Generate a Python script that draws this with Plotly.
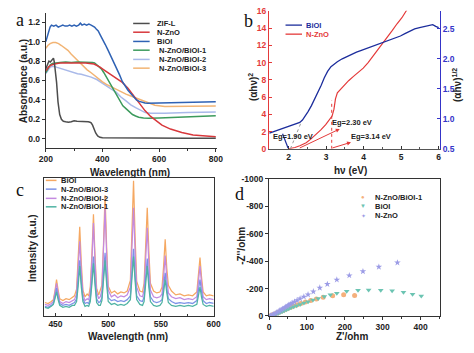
import plotly.graph_objects as go

W, H = 474, 353
def px(x): return x / W
def py(y): return 1 - y / H

# ---------------- Panel a: UV-vis absorbance ----------------
zif_wl = [200, 205, 211, 216, 220, 224, 227, 230, 234, 238, 243, 249, 255, 262, 270, 280, 290, 300, 310, 320, 330, 340, 350, 356, 360, 365, 370, 376, 383, 391, 400, 450, 500, 600, 700, 800]
zif_a = [0.72, 0.76, 0.80, 0.79, 0.81, 0.82, 0.83, 0.79, 0.70, 0.58, 0.38, 0.25, 0.20, 0.18, 0.175, 0.17, 0.175, 0.185, 0.18, 0.18, 0.175, 0.175, 0.175, 0.17, 0.165, 0.14, 0.10, 0.06, 0.03, 0.015, 0.01, 0.008, 0.007, 0.006, 0.005, 0.005]

nzno_wl = [200, 210, 220, 230, 250, 280, 310, 340, 370, 390, 410, 430, 450, 470, 490, 510, 530, 550, 570, 590, 610, 640, 680, 720, 760, 800]
nzno_a = [0.70, 0.74, 0.76, 0.77, 0.78, 0.78, 0.78, 0.78, 0.77, 0.74, 0.70, 0.66, 0.62, 0.58, 0.52, 0.44, 0.36, 0.29, 0.23, 0.18, 0.14, 0.10, 0.065, 0.04, 0.028, 0.02]

bioi_wl = [200, 205, 210, 215, 220, 228, 236, 244, 252, 260, 268, 276, 284, 292, 300, 308, 316, 322, 328, 336, 344, 352, 360, 366, 372, 378, 385, 392, 400, 410, 420, 430, 440, 450, 460, 470, 480, 490, 500, 510, 520, 530, 540, 550, 560, 580, 620, 680, 740, 800]
bioi_a = [1.00, 1.06, 1.12, 1.15, 1.17, 1.16, 1.17, 1.15, 1.16, 1.17, 1.16, 1.16, 1.17, 1.16, 1.17, 1.16, 1.17, 1.19, 1.17, 1.18, 1.17, 1.18, 1.17, 1.16, 1.15, 1.13, 1.11, 1.07, 1.03, 0.97, 0.91, 0.85, 0.79, 0.73, 0.66, 0.59, 0.54, 0.50, 0.465, 0.43, 0.40, 0.385, 0.375, 0.368, 0.365, 0.366, 0.370, 0.374, 0.378, 0.38]

c1_wl = [200, 207, 215, 223, 232, 250, 270, 290, 310, 330, 350, 365, 372, 380, 388, 396, 405, 415, 425, 437, 448, 460, 472, 483, 495, 506, 517, 528, 545, 563, 600, 650, 700, 750, 800]
c1_a = [0.68, 0.72, 0.76, 0.775, 0.78, 0.785, 0.79, 0.785, 0.79, 0.79, 0.785, 0.785, 0.78, 0.76, 0.74, 0.72, 0.68, 0.63, 0.58, 0.51, 0.45, 0.39, 0.34, 0.31, 0.275, 0.25, 0.235, 0.222, 0.215, 0.212, 0.215, 0.222, 0.228, 0.233, 0.237]

c2_wl = [200, 208, 215, 222, 230, 240, 255, 270, 289, 300, 312, 325, 346, 360, 380, 400, 414, 430, 448, 465, 483, 500, 517, 535, 551, 570, 585, 620, 700, 800]
c2_a = [0.67, 0.71, 0.735, 0.745, 0.745, 0.735, 0.72, 0.705, 0.69, 0.675, 0.67, 0.665, 0.65, 0.635, 0.61, 0.575, 0.55, 0.515, 0.48, 0.43, 0.39, 0.35, 0.32, 0.29, 0.27, 0.262, 0.26, 0.262, 0.27, 0.277]

c3_wl = [200, 207, 215, 225, 235, 245, 255, 265, 278, 290, 300, 312, 325, 346, 360, 380, 400, 414, 430, 448, 465, 483, 500, 517, 535, 551, 570, 585, 620, 700, 800]
c3_a = [0.93, 0.96, 0.98, 0.99, 0.99, 0.98, 0.96, 0.94, 0.91, 0.87, 0.84, 0.81, 0.77, 0.71, 0.68, 0.63, 0.585, 0.56, 0.535, 0.51, 0.485, 0.46, 0.44, 0.42, 0.40, 0.38, 0.36, 0.345, 0.333, 0.333, 0.337]

a_names = ["ZIF-L", "N-ZnO", "BiOI", "N-ZnO/BiOI-1", "N-ZnO/BiOI-2", "N-ZnO/BiOI-3"]
a_colors = ["#4d4d4d", "#d8383c", "#2f62b4", "#3c9a5c", "#a9b9e9", "#f2b474"]

# ---------------- Panel b: Tauc plots ----------------
b_bioi_ev = [1.49, 1.62, 1.75, 1.88, 2.0, 2.15, 2.30, 2.37, 2.43, 2.52, 2.61, 2.70, 2.78, 2.87, 2.95, 3.04, 3.13, 3.22, 3.30, 3.43, 3.56, 3.68, 3.81, 3.94, 4.07, 4.20, 4.33, 4.46, 4.59, 4.72, 4.85, 4.98, 5.10, 5.23, 5.36, 5.49, 5.62, 5.73, 5.84, 5.92, 6.0]
b_bioi_v = [0.76, 0.79, 0.82, 0.845, 0.87, 0.90, 0.94, 0.98, 1.03, 1.12, 1.22, 1.33, 1.44, 1.56, 1.68, 1.79, 1.87, 1.92, 1.95, 2.00, 2.04, 2.08, 2.11, 2.14, 2.17, 2.19, 2.22, 2.25, 2.29, 2.32, 2.35, 2.38, 2.42, 2.46, 2.50, 2.52, 2.54, 2.55, 2.57, 2.54, 2.52]
b_nzno_ev = [2.0, 2.1, 2.17, 2.3, 2.47, 2.6, 2.73, 2.86, 2.99, 3.08, 3.16, 3.21, 3.25, 3.30, 3.38, 3.47, 3.60, 3.73, 3.86, 3.99, 4.12, 4.25, 4.38, 4.50, 4.63, 4.76, 4.89, 5.02, 5.15]
b_nzno_v = [0.0, 0.05, 0.15, 0.35, 0.7, 1.15, 1.65, 2.2, 2.8, 3.3, 3.8, 4.6, 5.8, 6.5, 6.9, 7.3, 7.9, 8.4, 8.9, 9.35, 10.0, 10.7, 11.5, 12.2, 12.9, 13.7, 14.5, 15.2, 16.1]
b_gaps = ["Eg=1.90 eV", "Eg=2.30 eV", "Eg=3.14 eV"]
b_blue = "#1c2d9c"
b_red = "#e43a3a"

# ---------------- Panel c: PL spectra ----------------
pl_wl = [440, 443, 446, 448, 449.5, 451, 452.5, 454, 457, 460, 463, 466, 468, 470, 471.5, 473, 474.5, 476,
         478, 480, 481.5, 483, 484.5, 486, 487.5, 489, 491, 492.5, 494, 495.5, 497, 498.5, 500,
         503, 506, 509, 512, 515, 518, 521, 522.5, 524, 525.5, 527, 530, 532.5, 534, 535.5, 537, 538.5, 540,
         543, 546, 549, 551, 552.5, 554, 555.5, 557, 560, 564, 568, 572, 576, 580, 584, 585.5, 587, 588.5, 590,
         593, 596, 600]
pl_bioi = [14, 13, 15, 17, 26, 38, 27, 18, 16, 18, 17, 19, 21, 28, 57, 93, 55, 27,
           20, 23, 21, 30, 63, 106, 62, 29, 22, 26, 32, 74, 126, 72, 31,
           24, 26, 23, 25, 24, 26, 37, 83, 141, 82, 36, 26, 25, 34, 69, 113, 68, 34,
           26, 24, 25, 30, 52, 80, 50, 32, 26, 22, 23, 21, 22, 21, 25, 41, 61, 40, 25,
           21, 22, 21]
pl_b3 = [10, 9, 11, 13, 20, 29, 20, 13, 11, 12, 11, 13, 14, 18, 36, 58, 35, 18,
         13, 14, 13, 18, 38, 62, 37, 18, 14, 15, 19, 40, 66, 39, 19,
         16, 17, 15, 16, 15, 17, 21, 43, 70, 42, 21, 16, 15, 20, 37, 60, 36, 20,
         15, 14, 15, 17, 30, 45, 29, 18, 15, 13, 14, 13, 14, 13, 16, 26, 38, 25, 16,
         13, 14, 13]
pl_b2 = [12, 11, 13, 15, 24, 34, 24, 15, 13, 15, 14, 16, 17, 23, 47, 78, 46, 23,
         16, 18, 17, 25, 57, 97, 56, 25, 18, 20, 27, 65, 112, 64, 27,
         20, 22, 19, 21, 20, 22, 30, 67, 113, 66, 30, 21, 20, 27, 56, 92, 55, 27,
         20, 19, 20, 23, 41, 63, 40, 24, 20, 18, 19, 17, 18, 17, 20, 35, 52, 34, 20,
         17, 18, 17]
pl_b1 = [9, 8, 10, 12, 18, 25, 17, 11, 9, 10, 9, 11, 11, 15, 31, 52, 30, 15,
         10, 11, 10, 15, 33, 55, 32, 14, 11, 11, 16, 34, 58, 33, 15,
         12, 13, 11, 12, 11, 13, 17, 37, 62, 36, 17, 12, 11, 15, 31, 52, 30, 15,
         11, 10, 11, 14, 25, 38, 24, 14, 11, 10, 11, 10, 11, 10, 12, 20, 30, 19, 12,
         10, 11, 10]
c_names = ["BiOI", "N-ZnO/BiOI-3", "N-ZnO/BiOI-2", "N-ZnO/BiOI-1"]
c_colors = ["#f5a862", "#7d92e6", "#c48ae0", "#4fb3a3"]

# ---------------- Panel d: Nyquist ----------------
d_c1_re = [4, 8, 12, 16, 20, 24, 28, 33, 38, 44, 50, 57, 65, 74, 84, 96, 110, 125, 143, 168, 197, 226]
d_c1_im = [2, 6, 10, 15, 20, 25, 30, 36, 42, 49, 56, 64, 72, 81, 91, 102, 113, 124, 137, 148, 155, 150]
d_bioi_re = [5, 10, 15, 20, 25, 30, 35, 40, 46, 52, 58, 65, 73, 82, 92, 103, 116, 130, 146, 162, 179, 205, 235, 263, 295, 325, 355, 379, 402]
d_bioi_im = [2, 5, 10, 15, 20, 26, 32, 38, 45, 52, 59, 67, 75, 84, 94, 104, 116, 128, 141, 155, 166, 180, 188, 189, 188, 183, 172, 158, 146]
d_nzno_re = [4, 8, 12, 16, 20, 24, 28, 32, 36, 40, 44, 48, 52, 56, 61, 67, 74, 82, 92, 103, 117, 134, 154, 179, 212, 248, 290, 339]
d_nzno_im = [2, 6, 11, 17, 23, 30, 37, 44, 51, 58, 65, 72, 79, 86, 94, 103, 114, 126, 140, 156, 178, 205, 232, 264, 295, 325, 358, 389]
d_names = ["N-ZnO/BiOI-1", "BiOI", "N-ZnO"]
d_colors = ["#f5b07c", "#6cc4b2", "#9c9ce6"]
d_symbols = ["circle", "triangle-down", "star"]
d_yticks = [0, 200, 400, 600, 800, 1000]

fig = go.Figure()

a_data = [(zif_wl, zif_a), (nzno_wl, nzno_a), (bioi_wl, bioi_a), (c1_wl, c1_a), (c2_wl, c2_a), (c3_wl, c3_a)]
order = [4, 5, 3, 1, 2, 0]
for i in order:
    xs, ys = a_data[i]
    fig.add_trace(go.Scatter(x=xs, y=ys, mode="lines", name=a_names[i],
                             line=dict(color=a_colors[i], width=1.5), xaxis="x", yaxis="y"))

fig.add_trace(go.Scatter(x=b_nzno_ev, y=b_nzno_v, mode="lines", name="N-ZnO",
                         line=dict(color=b_red, width=1.2), xaxis="x2", yaxis="y2"))
fig.add_trace(go.Scatter(x=b_bioi_ev, y=b_bioi_v, mode="lines", name="BiOI",
                         line=dict(color=b_blue, width=1.3), xaxis="x2", yaxis="y3"))

c_data = [pl_bioi, pl_b3, pl_b2, pl_b1]
for i in [0, 2, 1, 3]:
    fig.add_trace(go.Scatter(x=pl_wl, y=c_data[i], mode="lines", name=c_names[i],
                             line=dict(color=c_colors[i], width=1.25), xaxis="x3", yaxis="y4"))

d_data = [(d_c1_re, d_c1_im), (d_bioi_re, d_bioi_im), (d_nzno_re, d_nzno_im)]
for i in [0, 1, 2]:
    xs, ys = d_data[i]
    fig.add_trace(go.Scatter(x=xs, y=ys, mode="markers", name=d_names[i],
                             marker=dict(color=d_colors[i], size=5, symbol=d_symbols[i]),
                             xaxis="x4", yaxis="y5"))

TF = dict(family="Liberation Sans", size=8.5, color="#222", weight="bold")
base = dict(showgrid=False, zeroline=False, showline=True, linecolor="#333", linewidth=1.2,
            tickfont=TF, tickcolor="#333", ticklen=3, tickwidth=1)

fig.update_layout(
    width=W, height=H, margin=dict(l=0, r=0, t=0, b=0),
    paper_bgcolor="white", plot_bgcolor="white", showlegend=False,
    xaxis=dict(base, domain=[px(40), px(216)], range=[200, 803], anchor="y",
               tickvals=[200, 400, 600, 800], ticks="outside",
               minor=dict(ticks="outside", dtick=100, ticklen=2, tickcolor="#333")),
    yaxis=dict(base, domain=[py(147), py(8)], range=[-0.093, 1.297], anchor="x",
               tickvals=[0, 0.2, 0.4, 0.6, 0.8, 1.0, 1.2], tickformat=".1f", ticks="outside"),
    xaxis2=dict(base, domain=[px(270), px(446)], range=[1.48, 6.03], anchor="y2",
                tickvals=[2, 3, 4, 5, 6], ticks="inside", linecolor="#555",
                minor=dict(ticks="inside", dtick=0.5, ticklen=2, tickcolor="#555")),
    yaxis2=dict(base, domain=[py(148), py(6)], range=[0, 16], anchor="x2",
                tickvals=[0, 2, 4, 6, 8, 10, 12, 14, 16], ticks="inside",
                linecolor=b_red, tickcolor=b_red,
                tickfont=dict(TF, color=b_red)),
    yaxis3=dict(base, overlaying="y2", side="right", range=[0.5, 2.8], anchor="x2",
                tickvals=[0.5, 1.0, 1.5, 2.0, 2.5], tickformat=".1f", ticks="inside",
                linecolor="#3434c8", tickcolor="#3434c8",
                tickfont=dict(TF, color="#3434c8")),
    xaxis3=dict(base, domain=[px(38), px(213)], range=[439, 600], anchor="y4", mirror=True,
                tickvals=[450, 500, 550, 600], ticks="inside",
                minor=dict(ticks="inside", dtick=25, ticklen=2, tickcolor="#333")),
    yaxis4=dict(base, domain=[py(320), py(178)], range=[0, 144], anchor="x3", mirror=True,
                showticklabels=False, ticks=""),
    xaxis4=dict(base, domain=[px(270), px(446)], range=[0, 451], anchor="y5", mirror=True,
                tickvals=[0, 100, 200, 300, 400], ticks="outside",
                minor=dict(ticks="outside", dtick=50, ticklen=2, tickcolor="#333")),
    yaxis5=dict(base, domain=[py(320), py(179)], range=[0, 1000], anchor="x4", mirror=True,
                tickvals=d_yticks, ticktext=[("-%d" % v) if v else "0" for v in d_yticks],
                ticks="outside"),
)

anns = []
shapes = []
def label(text, x, y, size=10, angle=0, color="#222", xa="center", ya="middle", family="Liberation Sans", weight="bold"):
    anns.append(dict(text=text, x=px(x), y=py(y), xref="paper", yref="paper", showarrow=False,
                     textangle=angle, xanchor=xa, yanchor=ya,
                     font=dict(family=family, size=size, color=color, weight=weight)))

# panel letters
for t, x, y in [("a", 13, 15), ("b", 249, 16), ("c", 13, 190), ("d", 240, 195)]:
    label(t, x, y, size=18, family="Liberation Serif", weight="normal", color="#111")

# axis titles
label("Absorbance (a.u.)", 17, 78, size=10, angle=-90)
label("Wavelength (nm)", 127, 172, size=10)
label("(αhν)<sup>2</sup>", 253, 85, size=10, angle=-90)
label("(αhν)<sup>1/2</sup>", 463, 82, size=10, angle=-90)
label("hν (eV)", 354, 170, size=10)
label("Intensity (a.u.)", 27, 250, size=10, angle=-90)
label("Wavelength (nm)", 125, 341, size=10)
label("-Z''/ohm", 242, 248, size=10, angle=-90)
label("Z'/ohm", 356, 341, size=10)

# legend a
a_rows = [19, 28, 37.5, 46.5, 56, 65]
for k in range(6):
    shapes.append(dict(type="line", xref="paper", yref="paper", x0=px(130), x1=px(147),
                       y0=py(a_rows[k]), y1=py(a_rows[k]), line=dict(color=a_colors[k], width=1.5)))
    label(a_names[k], 152 if k < 3 else 155, a_rows[k], size=7.5, xa="left")

# legend b
for txt, col, yy in [("BiOI", b_blue, 20.7), ("N-ZnO", b_red, 30)]:
    shapes.append(dict(type="line", xref="paper", yref="paper", x0=px(287), x1=px(304),
                       y0=py(yy), y1=py(yy), line=dict(color=col, width=1.3)))
    label(txt, 306, yy, size=7.5, xa="left", color=col)

# legend c
c_rows = [180.5, 189.5, 199, 207.7]
for k in range(4):
    shapes.append(dict(type="line", xref="paper", yref="paper", x0=px(40), x1=px(51),
                       y0=py(c_rows[k]), y1=py(c_rows[k]), line=dict(color=c_colors[k], width=1.5)))
    label(c_names[k], 54, c_rows[k], size=7.5, xa="left")

# legend d
d_rows = [198, 207.3, 216.7]
d_glyph = ["●", "▼", "✦"]
for k in range(3):
    label(d_glyph[k], 367, d_rows[k], size=6, color=d_colors[k], weight="normal")
    label(d_names[k], 377, d_rows[k], size=7.5, xa="left")

# panel b band-gap labels and arrows
GF = dict(family="Liberation Sans", size=7.5, color="#222", weight="bold")
label(b_gaps[0], 272, 135, size=7.5, xa="left", color="#222")
anns.append(dict(text=b_gaps[1], x=2.30, y=0.1, xref="x2", yref="y2", ax=3.70, ay=3.0,
                 axref="x2", ayref="y2", showarrow=True, arrowside="start",
                 startarrowhead=2, startarrowsize=0.8, arrowwidth=1, arrowcolor=b_red, font=GF))
anns.append(dict(text=b_gaps[2], x=3.17, y=0.1, xref="x2", yref="y2", ax=4.19, ay=1.45,
                 axref="x2", ayref="y2", showarrow=True, arrowside="start",
                 startarrowhead=2, startarrowsize=0.8, arrowwidth=1, arrowcolor=b_red, font=GF))
shapes.append(dict(type="line", xref="x2", yref="y3", x0=1.84, y0=0.75, x1=1.99, y1=0.51,
                   line=dict(color=b_blue, width=1.2)))
shapes.append(dict(type="line", xref="x2", yref="y2", x0=2.05, y0=0.0, x1=2.32, y1=2.9,
                   line=dict(color="#999", width=1, dash="dot")))
shapes.append(dict(type="line", xref="x2", yref="y2", x0=3.15, y0=0.0, x1=3.15, y1=5.6,
                   line=dict(color=b_red, width=1, dash="dot")))

fig.update_layout(annotations=anns, shapes=shapes)
fig.write_html("out.html")
